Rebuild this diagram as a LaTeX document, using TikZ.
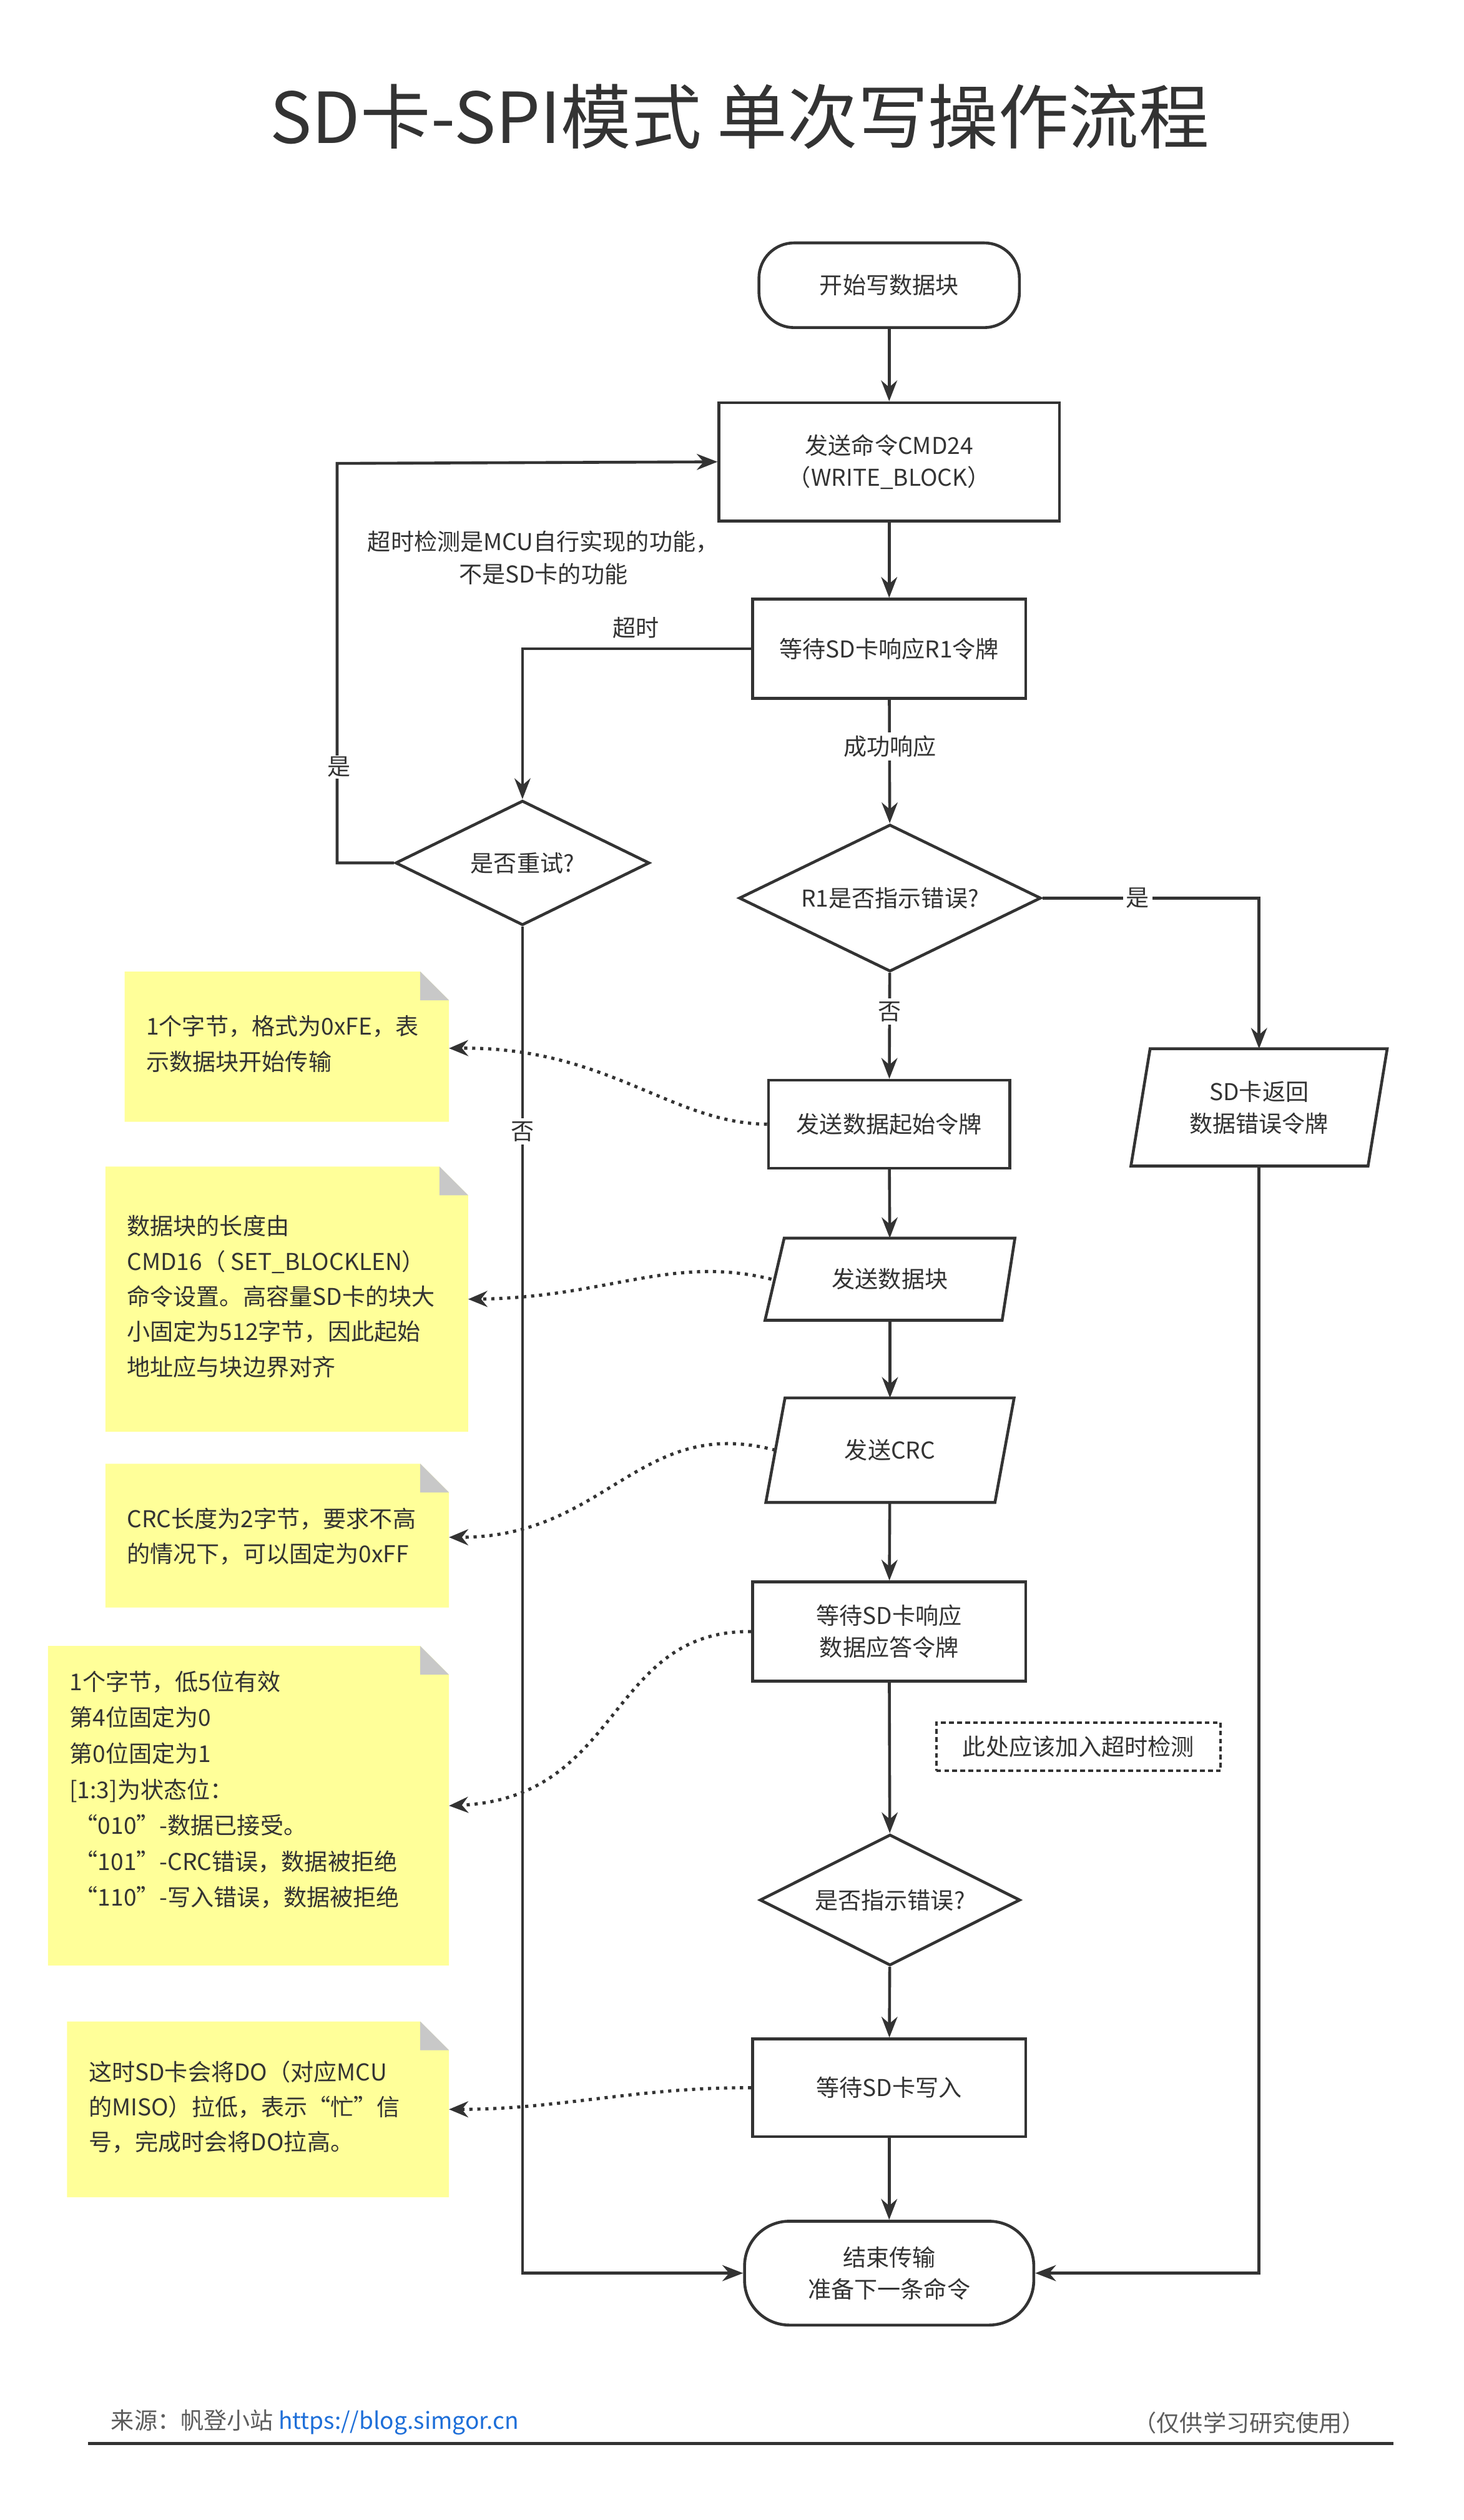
\documentclass[tikz,border=0pt]{standalone}
\usepackage{fontspec}
\setmainfont{Noto Sans CJK SC}
\usetikzlibrary{arrows.meta,calc,shapes.geometric}
\definecolor{ln}{HTML}{333333}
\definecolor{note}{HTML}{FFFF99}
\definecolor{fold}{HTML}{C8C8C8}
\definecolor{lnk}{HTML}{1E6FD9}
\begin{document}
\begin{tikzpicture}[x=1pt,y=-1pt,
  every node/.style={font=\fontsize{14.5}{20}\selectfont,text=ln,align=center},
  box/.style={draw=ln,line width=1.8pt,fill=white,rectangle,inner sep=0},
  rbox/.style={box,rounded corners=22pt},
  dia/.style={draw=ln,line width=1.8pt,fill=white,diamond,aspect=2,inner sep=0},
  pl/.style={rectangle,inner sep=0},
  arr/.style={draw=ln,line width=1.8pt,-{Stealth[length=13pt,width=10pt]}},
  dot/.style={draw=ln,line width=2pt,dash pattern=on 2pt off 3pt,-{Stealth[length=12pt,width=10pt]}},
  nt/.style={align=left,anchor=north west,font=\fontsize{14.5}{22}\selectfont}]
\useasboundingbox (0,0) rectangle (916,1577);
\fill[white] (0,0) rectangle (916,1577);
\node[font=\fontsize{44}{50}\selectfont] (title) at (463,73) {SD卡-SPI模式 单次写操作流程};
% main nodes
\node[rbox,minimum width=163pt,minimum height=53pt] (start) at (556.5,178.5) {开始写数据块};
\node[box,minimum width=213pt,minimum height=74pt] (cmd) at (556.5,289) {发送命令CMD24\\（WRITE\_BLOCK）};
\node[box,minimum width=171pt,minimum height=62pt] (r1) at (556.5,406) {等待SD卡响应R1令牌};
\node[dia,minimum width=159pt,minimum height=78pt] (retry) at (327,540) {是否重试?};
\node[dia,minimum width=189pt,minimum height=92pt] (err1) at (557,562) {R1是否指示错误?};
\node[pl,minimum width=160pt,minimum height=73pt] (ret) at (788,693) {SD卡返回\\数据错误令牌};
\draw[box] ($(ret.north west)+(12,0)$) -- (ret.north east) -- ($(ret.south east)-(12,0)$) -- (ret.south west) -- cycle;
\node at (ret) {SD卡返回\\数据错误令牌};
\node[box,minimum width=151pt,minimum height=55pt] (stok) at (556.5,703.5) {发送数据起始令牌};
\node[pl,minimum width=148pt,minimum height=51pt] (blk) at (557,800.5) {};
\draw[box] ($(blk.north west)+(8,0)$) -- ($(blk.north east)+(4,0)$) -- ($(blk.south east)-(4,0)$) -- ($(blk.south west)-(4,0)$) -- cycle;
\node at (blk) {发送数据块};
\node[pl,minimum width=143pt,minimum height=65pt] (crc) at (557,907.5) {};
\draw[box] ($(crc.north west)+(6,0)$) -- ($(crc.north east)+(6,0)$) -- ($(crc.south east)-(6,0)$) -- ($(crc.south west)-(6,0)$) -- cycle;
\node at (crc) {发送CRC};
\node[box,minimum width=171pt,minimum height=62pt] (dresp) at (556.5,1021) {等待SD卡响应\\数据应答令牌};
\node[draw=ln,line width=1.6pt,dash pattern=on 3pt off 2pt,minimum width=178pt,minimum height=30pt,inner sep=0] (tmo) at (675,1093) {此处应该加入超时检测};
\node[dia,minimum width=163pt,minimum height=82pt] (err2) at (557,1189) {是否指示错误?};
\node[box,minimum width=171pt,minimum height=61pt] (wr) at (556.5,1306.5) {等待SD卡写入};
\node[rbox,rounded corners=28pt,minimum width=181pt,minimum height=65pt] (end) at (556.5,1422.5) {结束传输\\准备下一条命令};
% connectors
\draw[arr] (start) -- (cmd);
\draw[arr] (cmd) -- (r1);
\draw[arr] (r1.west) -| (retry.north);
\node (lto) at (398,393) {超时};
\node (lmcu) at (340,349) {超时检测是MCU自行实现的功能，\\不是SD卡的功能};
\draw[arr] (retry.west) -| (211,290) -- (cmd.west);
\node[fill=white,inner sep=1pt] (lyes1) at (212,480) {是};
\draw[arr] (retry.south) |- (end.west);
\node[fill=white,inner sep=2pt] (lno1) at (327,708) {否};
\draw[arr] (r1) -- (err1);
\node[fill=white,inner sep=2pt] (lok) at (557,467) {成功响应};
\draw[arr] (err1.east) -| (ret.north);
\node[fill=white,inner sep=2pt] (lyes2) at (712,562) {是};
\draw[arr] (err1) -- (stok);
\node[fill=white,inner sep=2pt] (lno2) at (557,633) {否};
\draw[arr] (ret.south) |- (end.east);
\draw[arr] (stok) -- (blk);
\draw[arr] (blk) -- (crc);
\draw[arr] (crc) -- (dresp);
\draw[arr] (dresp) -- (err2);
\draw[arr] (err2) -- (wr);
\draw[arr] (wr) -- (end);
% notes
\foreach \n/\xa/\ya/\xb/\yb in {n1/78/608/281/702, n2/66/730/293/896, n3/66/916/281/1006, n4/30/1030/281/1230, n5/42/1265/281/1375}{
  \fill[note] (\xa,\ya) -- (\xb-18,\ya) -- (\xb,\ya+18) -- (\xb,\yb) -- (\xa,\yb) -- cycle;
  \fill[fold] (\xb-18,\ya) -- (\xb,\ya+18) -- (\xb-18,\ya+18) -- cycle;
  \coordinate (\n) at (\xb,\ya);
}
\node[nt] (t1) at (88,632) {1个字节，格式为0xFE，表\\示数据块开始传输};
\node[nt] (t2) at (76,757) {数据块的长度由\\CMD16（ SET\_BLOCKLEN）\\命令设置。高容量SD卡的块大\\小固定为512字节，因此起始\\地址应与块边界对齐};
\node[nt] (t3) at (76,940) {CRC长度为2字节，要求不高\\的情况下，可以固定为0xFF};
\node[nt,font=\fontsize{14.5}{22.5}\selectfont] (t4) at (40,1042) {1个字节，低5位有效\\第4位固定为0\\第0位固定为1\\{[1:3]}为状态位：\\\ “010”-数据已接受。\\\ “101”-CRC错误，数据被拒绝\\\ “110”-写入错误，数据被拒绝};
\node[nt] (t5) at (52,1286) {这时SD卡会将DO（对应MCU\\的MISO）拉低，表示“忙”信\\号，完成时会将DO拉高。};
\coordinate (a1) at (281,656);
\coordinate (a2) at (293,813);
\coordinate (a3) at (281,962);
\coordinate (a4) at (281,1130);
\coordinate (a5) at (281,1320);
\draw[dot] (stok.west) .. controls (420,703) and (380,655) .. (a1);
\draw[dot] (blk.west) .. controls (420,785) and (380,812) .. (a2);
\draw[dot] (crc.west) .. controls (400,885) and (380,962) .. (a3);
\draw[dot] (dresp.west) .. controls (380,1020) and (390,1125) .. (a4);
\draw[dot] (wr.west) .. controls (400,1306) and (350,1320) .. (a5);
% footer
\node[anchor=west,font=\fontsize{14.5}{18}\selectfont,text=ln!80] (src) at (66,1516) {来源：帆登小站 \textcolor{lnk}{https://blog.simgor.cn}};
\node[anchor=east,font=\fontsize{14.5}{18}\selectfont,text=ln!80] (use) at (858,1516) {（仅供学习研究使用）};
\coordinate (f1) at (55,1529); \coordinate (f2) at (872,1529);
\draw[ln,line width=1.8pt] (f1) -- (f2);
\end{tikzpicture}
\end{document}
